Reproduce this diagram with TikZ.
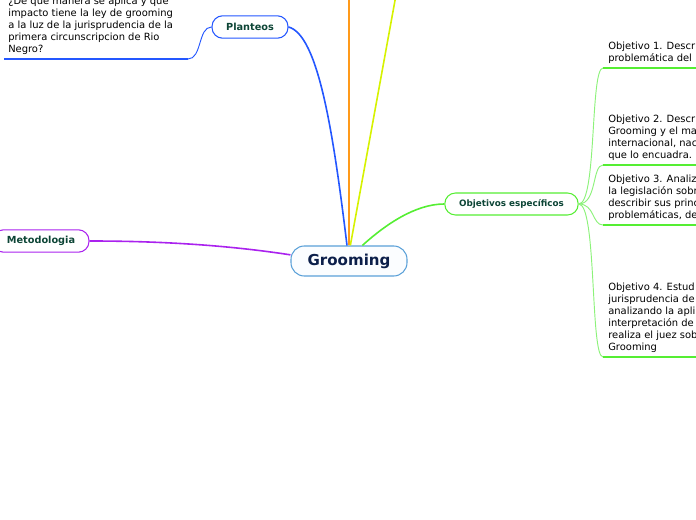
\documentclass[tikz,border=0pt]{standalone}
\usepackage{fontspec}
\setmainfont{DejaVu Sans}
\usetikzlibrary{calc}
\definecolor{rootline}{HTML}{5AA0D8}
\definecolor{rootfill}{HTML}{FBFDFF}
\definecolor{roottext}{HTML}{0C1F4A}
\definecolor{topictext}{HTML}{0D4536}
\definecolor{planblue}{HTML}{2457FF}
\definecolor{metopurple}{HTML}{AA22EE}
\definecolor{objgreen}{HTML}{55EE33}
\definecolor{subgreen}{HTML}{8CF27A}
\definecolor{branchorange}{HTML}{FF9A1A}
\definecolor{branchyellow}{HTML}{D6F200}
\tikzset{
    root/.style={draw=rootline, fill=rootfill, line width=0.8pt, rounded corners=10pt,
        minimum width=87pt, minimum height=22.5pt, inner sep=0pt,
        text=roottext, font=\fontsize{11.3}{13}\selectfont\bfseries},
    topic/.style={fill=white, line width=0.8pt, rounded corners=8pt,
        minimum height=16.8pt, inner sep=0pt,
        text=topictext, font=\fontsize{7.3}{9}\selectfont\bfseries},
    leaf/.style={anchor=south west, align=left, inner sep=0pt,
        text=black, font=\fontsize{7.45}{9}\selectfont},
    branch/.style={line width=1.2pt},
    twig/.style={draw=subgreen, line width=0.7pt},
    underline/.style={draw=objgreen, line width=1.1pt}
}

\begin{document}
\begin{tikzpicture}[x=0.75pt, y=-0.75pt]
    \useasboundingbox (0,0) rectangle (696,520);
    \clip (0,0) rectangle (696,520);
    % nodes
    \node[root] (groom) at (349,261) {Grooming};
    \node[topic, draw=planblue, minimum width=57pt] (plant) at (250,27) {Planteos};
    \node[topic, draw=metopurple, minimum width=72pt] (meto) at (41,241) {Metodologia};
    \node[topic, draw=objgreen, minimum width=100pt, minimum height=16.5pt,
        font=\fontsize{6.6}{8}\selectfont\bfseries] (objs) at (511.5,204) {Objetivos específicos};
    % free ends
    \coordinate (otop) at (349,-5);
    \coordinate (ytop) at (396,-5);
    \coordinate (ps) at (188,59);
    \coordinate (pe) at (4,59);
    \coordinate (u1) at (603,68);
    \coordinate (u2) at (603,165);
    \coordinate (u3) at (603,225);
    \coordinate (u4) at (603,357);
    % leaf texts
    \node[leaf] (qplant) at (8,54.5) {¿De que manera se aplica y que\\impacto tiene la ley de grooming\\a la luz de la jurisprudencia de la\\primera circunscripcion de Rio\\Negro?};
    \node[leaf] (ob1) at (608,63.5) {Objetivo 1. Descr\\problemática del};
    \node[leaf] (ob2) at (608,160.5) {Objetivo 2. Descr\\Grooming y el ma\\internacional, nac\\que lo encuadra.};
    \node[leaf] (ob3) at (608,220.5) {Objetivo 3. Analiz\\la legislación sobr\\describir sus princ\\problemáticas, de};
    \node[leaf] (ob4) at (608,352.5) {Objetivo 4. Estud\\jurisprudencia de\\analizando la apli\\interpretación de\\realiza el juez sob\\Grooming};
    % main branches
    \draw[branch, draw=branchorange] (groom.north) -- (otop);
    \draw[branch, draw=branchyellow] ([xshift=1pt]groom.north) -- (ytop);
    \draw[branch, draw=planblue] ([xshift=-1.5pt]groom.north) .. controls (333,130) and (318,35) .. (plant.east);
    \draw[branch, draw=metopurple] (groom.174) .. controls (220,244) and (150,241) .. (meto.east);
    \draw[branch, draw=objgreen] ([xshift=10pt]groom.north) .. controls (385,225) and (415,204) .. (objs.west);
    % planteos leaf
    \draw[planblue, line width=0.7pt] (plant.west) .. controls (198,27) and (202,59) .. (ps);
    \draw[planblue, line width=1.1pt] (ps) -- (pe);
    % objetivos leaves
    \draw[twig] (objs.east) .. controls (597,204) and (590,68) .. (u1);
    \draw[twig] (objs.east) .. controls (597,204) and (592,165) .. (u2);
    \draw[twig] (objs.east) .. controls (595,204) and (592,225) .. (u3);
    \draw[twig] (objs.east) .. controls (597,204) and (590,357) .. (u4);
    \draw[underline] (u1) -- ++(100,0);
    \draw[underline] (u2) -- ++(100,0);
    \draw[underline] (u3) -- ++(100,0);
    \draw[underline] (u4) -- ++(100,0);
\end{tikzpicture}
\end{document}
